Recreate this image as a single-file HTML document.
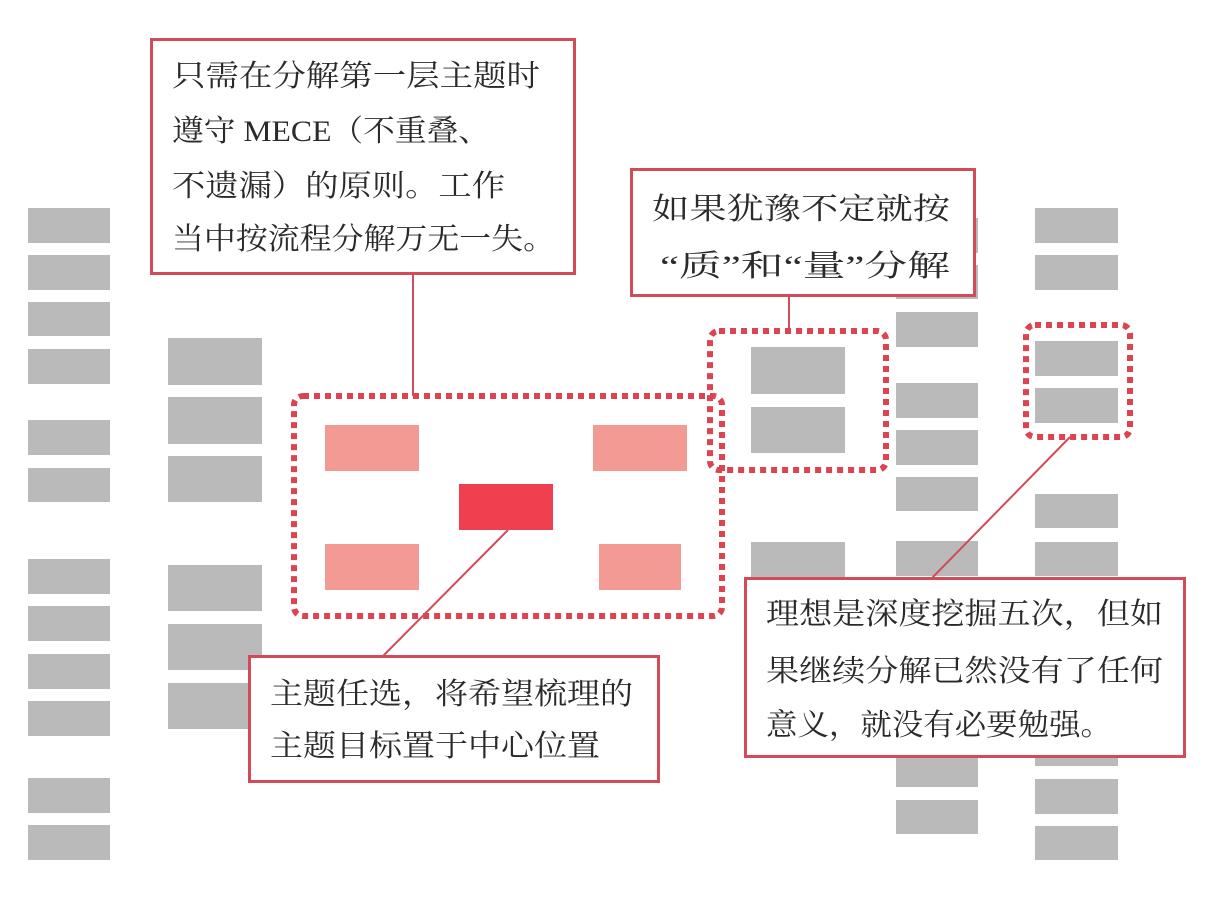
<!DOCTYPE html>
<html><head><meta charset="utf-8"><style>
html,body{margin:0;padding:0;background:#fff;}
svg{display:block;}
text{font-family:"Liberation Serif","Noto Serif CJK SC",serif;font-size:30px;fill:#2a2a2a;}
</style></head><body>
<svg width="1222" height="924" viewBox="0 0 1222 924" xmlns="http://www.w3.org/2000/svg">
<g fill="#bababa">
<rect x="28" y="208" width="82" height="35"/><rect x="28" y="255" width="82" height="35"/>
<rect x="28" y="302" width="82" height="34"/><rect x="28" y="349" width="82" height="35"/>
<rect x="28" y="420" width="82" height="35"/><rect x="28" y="468" width="82" height="34"/>
<rect x="28" y="559" width="82" height="35"/><rect x="28" y="606" width="82" height="35"/>
<rect x="28" y="654" width="82" height="35"/><rect x="28" y="701" width="82" height="35"/>
<rect x="28" y="778" width="82" height="35"/><rect x="28" y="825" width="82" height="35"/>
<rect x="168" y="338" width="94" height="47"/><rect x="168" y="397" width="94" height="47"/>
<rect x="168" y="456" width="94" height="46"/><rect x="168" y="565" width="94" height="46"/>
<rect x="168" y="624" width="94" height="46"/><rect x="168" y="683" width="94" height="46"/>
<rect x="751" y="347" width="94" height="47"/><rect x="751" y="407" width="94" height="46"/>
<rect x="751" y="542" width="94" height="40"/>
<rect x="896" y="218" width="82" height="35"/><rect x="896" y="265" width="82" height="34"/>
<rect x="896" y="312" width="82" height="35"/><rect x="896" y="383" width="82" height="35"/>
<rect x="896" y="430" width="82" height="35"/><rect x="896" y="477" width="82" height="34"/>
<rect x="896" y="541" width="82" height="35"/><rect x="896" y="752" width="82" height="35"/>
<rect x="896" y="800" width="82" height="34"/>
<rect x="1035" y="208" width="83" height="35"/><rect x="1035" y="255" width="83" height="35"/>
<rect x="1035" y="341" width="83" height="35"/><rect x="1035" y="388" width="83" height="35"/>
<rect x="1035" y="494" width="83" height="34"/><rect x="1035" y="542" width="83" height="34"/>
<rect x="1035" y="731" width="83" height="35"/><rect x="1035" y="779" width="83" height="35"/>
<rect x="1035" y="826" width="83" height="34"/>
</g>
<g fill="#f49a94">
<rect x="325" y="425" width="94" height="46"/><rect x="593" y="425" width="94" height="46"/>
<rect x="325" y="544" width="94" height="46"/><rect x="599" y="544" width="82" height="46"/>
</g>
<rect x="459" y="484" width="94" height="46" fill="#f04050"/>
<g fill="none" stroke="#dc4451" stroke-width="6" stroke-dasharray="6 5">
<rect x="294" y="396" width="428" height="220" rx="9"/>
<rect x="710" y="331" width="176" height="139" rx="9"/>
<rect x="1026" y="325" width="104" height="112" rx="9"/>
</g>
<g stroke="#d24b58" stroke-width="2" fill="none">
<line x1="413" y1="274" x2="413" y2="396"/>
<line x1="789" y1="296" x2="789" y2="331"/>
<line x1="508" y1="530" x2="383" y2="656"/>
<line x1="1070" y1="437" x2="932" y2="578"/>
</g>
<g fill="#fff" stroke="#d24b58" stroke-width="3">
<rect x="151.5" y="39.5" width="423" height="234"/>
<rect x="631.5" y="169.5" width="343" height="126"/>
<rect x="249.5" y="656.5" width="409" height="125"/>
<rect x="745.5" y="578.5" width="439" height="178"/>
</g>
<text x="172" y="86" textLength="368" lengthAdjust="spacingAndGlyphs">只需在分解第一层主题时</text>
<text x="172" y="141" textLength="318" lengthAdjust="spacingAndGlyphs">遵守 MECE（不重叠、</text>
<text x="172" y="196" textLength="333" lengthAdjust="spacingAndGlyphs">不遗漏）的原则。工作</text>
<text x="172" y="249" textLength="383" lengthAdjust="spacingAndGlyphs">当中按流程分解万无一失。</text>
<text x="652" y="219" textLength="298" lengthAdjust="spacingAndGlyphs">如果犹豫不定就按</text>
<text x="660" y="276" textLength="290" lengthAdjust="spacingAndGlyphs">“质”和“量”分解</text>
<text x="270" y="704" textLength="363" lengthAdjust="spacingAndGlyphs">主题任选，将希望梳理的</text>
<text x="270" y="756" textLength="330" lengthAdjust="spacingAndGlyphs">主题目标置于中心位置</text>
<text x="766" y="624" textLength="397" lengthAdjust="spacingAndGlyphs">理想是深度挖掘五次，但如</text>
<text x="766" y="681" textLength="397" lengthAdjust="spacingAndGlyphs">果继续分解已然没有了任何</text>
<text x="766" y="735" textLength="346" lengthAdjust="spacingAndGlyphs">意义，就没有必要勉强。</text>
</svg>
</body></html>
